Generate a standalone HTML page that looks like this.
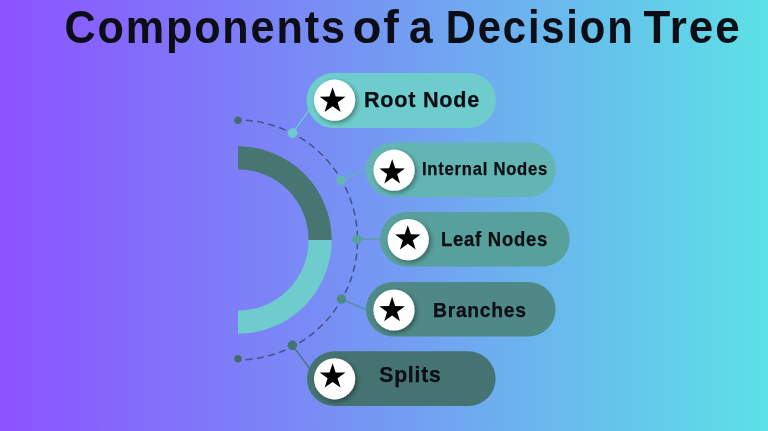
<!DOCTYPE html>
<html><head><meta charset="utf-8"><style>
html,body{margin:0;padding:0;width:768px;height:431px;overflow:hidden;background:#7a9af5}
svg{display:block}
text{font-family:"Liberation Sans",sans-serif;font-weight:bold;fill:#0b0d14;stroke:#0b0d14;stroke-linejoin:round}
</style></head><body>
<svg width="768" height="431" viewBox="0 0 768 431">
<defs><linearGradient id="bg" x1="0" y1="0" x2="1" y2="0"><stop offset="0" stop-color="#8c52ff"/><stop offset="1" stop-color="#5ce1e6"/></linearGradient><filter id="sh" x="-30%" y="-30%" width="160%" height="160%"><feGaussianBlur in="SourceAlpha" stdDeviation="2.4"/><feOffset dx="1.8" dy="1.8"/><feComponentTransfer><feFuncA type="linear" slope="0.4"/></feComponentTransfer><feMerge><feMergeNode/><feMergeNode in="SourceGraphic"/></feMerge></filter><filter id="soft" x="-5%" y="-5%" width="110%" height="110%"><feGaussianBlur stdDeviation="0.4"/></filter></defs>
<rect width="768" height="431" fill="url(#bg)"/>
<g filter="url(#soft)">
<path d="M238,146.3 A93.7,93.7 0 0 1 331.7,240 L308.6,240 A70.6,70.6 0 0 0 238,169.4 Z" fill="#467472"/>
<path d="M331.7,240 A93.7,93.7 0 0 1 238,333.7 L238,310.6 A70.6,70.6 0 0 0 308.6,240 Z" fill="#6ecdcc"/>
<path d="M237.5,120 A120,120 0 0 1 237.5,360" fill="none" stroke="#43528c" stroke-width="1.5" stroke-dasharray="7 4.4" stroke-dashoffset="-8.3"/>
<circle cx="238" cy="120.2" r="3.7" fill="#3f6c6b"/>
<circle cx="238" cy="358.7" r="3.7" fill="#3f6c6b"/>
<line x1="292.5" y1="133.1" x2="310.5" y2="107.8" stroke="#6ecdcc" stroke-width="1.3"/>
<circle cx="292.5" cy="133.1" r="4.8" fill="#6ecdcc"/>
<rect x="306.5" y="73" width="189.5" height="55.0" rx="27.5" fill="#6ecdcc"/>
<circle cx="334.6" cy="100.2" r="20.6" fill="#fff" filter="url(#sh)"/>
<polygon points="332.60,87.30 335.72,96.61 345.53,96.70 337.64,102.54 340.59,111.90 332.60,106.20 324.61,111.90 327.56,102.54 319.67,96.70 329.48,96.61" fill="#000"/>
<line x1="341.1" y1="180.4" x2="369" y2="167.6" stroke="#62b5b3" stroke-width="1.3"/>
<circle cx="341.1" cy="180.4" r="4.8" fill="#62b5b3"/>
<rect x="366" y="142.5" width="189.6" height="54.5" rx="27.2" fill="#62b5b3"/>
<circle cx="394.05" cy="170.2" r="20.6" fill="#fff" filter="url(#sh)"/>
<polygon points="392.20,159.20 395.27,168.37 404.94,168.46 397.17,174.21 400.08,183.44 392.20,177.83 384.32,183.44 387.23,174.21 379.46,168.46 389.13,168.37" fill="#000"/>
<line x1="357.2" y1="239.2" x2="383" y2="239.2" stroke="#58a09b" stroke-width="1.3"/>
<circle cx="357.2" cy="239.2" r="4.8" fill="#58a09b"/>
<rect x="380" y="212" width="189.7" height="54.6" rx="27.3" fill="#58a09b"/>
<circle cx="408.2" cy="239.6" r="20.6" fill="#fff" filter="url(#sh)"/>
<polygon points="407.80,225.20 410.87,234.37 420.54,234.46 412.77,240.21 415.68,249.44 407.80,243.83 399.92,249.44 402.83,240.21 395.06,234.46 404.73,234.37" fill="#000"/>
<line x1="341.5" y1="299" x2="369" y2="311" stroke="#4f8987" stroke-width="1.3"/>
<circle cx="341.5" cy="299" r="4.8" fill="#4f8987"/>
<rect x="366" y="282" width="189.6" height="54.6" rx="27.3" fill="#4f8987"/>
<circle cx="394" cy="310" r="20.6" fill="#fff" filter="url(#sh)"/>
<polygon points="392.10,296.80 395.19,306.04 404.94,306.13 397.11,311.93 400.04,321.22 392.10,315.56 384.16,321.22 387.09,311.93 379.26,306.13 389.01,306.04" fill="#000"/>
<line x1="292.4" y1="345.3" x2="311.1" y2="370.4" stroke="#457371" stroke-width="1.3"/>
<circle cx="292.4" cy="345.3" r="4.8" fill="#457371"/>
<rect x="307" y="351.3" width="188.6" height="54.7" rx="27.3" fill="#457371"/>
<circle cx="334.6" cy="378.8" r="20.6" fill="#fff" filter="url(#sh)"/>
<polygon points="332.60,363.20 335.69,372.44 345.44,372.53 337.61,378.33 340.54,387.62 332.60,381.96 324.66,387.62 327.59,378.33 319.76,372.53 329.51,372.44" fill="#000"/>
<text x="364.00" y="106.6" font-size="22.4" textLength="116.00" lengthAdjust="spacingAndGlyphs" stroke-width="0.25" letter-spacing="0.8">Root Node</text>
<text x="422.00" y="174.7" font-size="17.9" textLength="126.00" lengthAdjust="spacingAndGlyphs" stroke-width="0.25" letter-spacing="0.8">Internal Nodes</text>
<text x="441.00" y="246.4" font-size="20.2" textLength="107.00" lengthAdjust="spacingAndGlyphs" stroke-width="0.25" letter-spacing="0.8">Leaf Nodes</text>
<text x="433.00" y="316.9" font-size="20.9" textLength="93.75" lengthAdjust="spacingAndGlyphs" stroke-width="0.25" letter-spacing="0.8">Branches</text>
<text x="379.25" y="381.9" font-size="21.8" textLength="62.25" lengthAdjust="spacingAndGlyphs" stroke-width="0.25" letter-spacing="0.8">Splits</text>
<text x="64.50" y="42.5" font-size="46" textLength="282.25" lengthAdjust="spacingAndGlyphs" stroke-width="0" letter-spacing="2">Components</text>
<text x="352.75" y="42.5" font-size="46" textLength="48.25" lengthAdjust="spacingAndGlyphs" stroke-width="0" letter-spacing="2">of</text>
<text x="409.00" y="42.5" font-size="46" textLength="25.50" lengthAdjust="spacingAndGlyphs" stroke-width="0" letter-spacing="2">a</text>
<text x="445.75" y="42.5" font-size="46" textLength="188.75" lengthAdjust="spacingAndGlyphs" stroke-width="0" letter-spacing="2">Decision</text>
<text x="643.50" y="42.5" font-size="46" textLength="98.00" lengthAdjust="spacingAndGlyphs" stroke-width="0" letter-spacing="2">Tree</text>
</g>
</svg>
</body></html>
